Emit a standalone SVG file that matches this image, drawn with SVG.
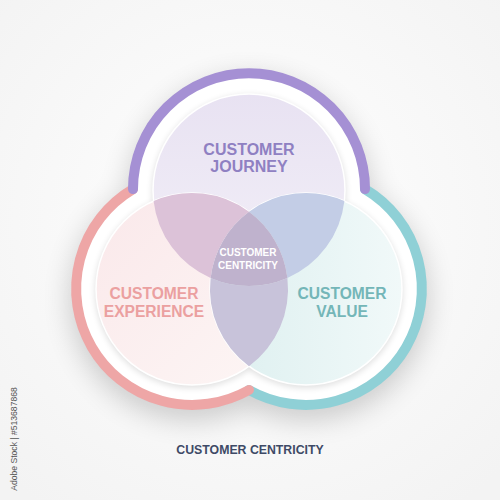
<svg xmlns="http://www.w3.org/2000/svg" width="500" height="500" viewBox="0 0 500 500">
  <defs>
    <filter id="dropShadow" x="-30%" y="-30%" width="160%" height="160%">
      <feGaussianBlur stdDeviation="14"/>
    </filter>
    <filter id="innerShadow" x="-20%" y="-20%" width="140%" height="140%">
      <feGaussianBlur stdDeviation="3"/>
    </filter>
    <radialGradient id="bg" cx="50%" cy="45%" r="70%">
      <stop offset="0" stop-color="#ffffff"/>
      <stop offset="1" stop-color="#f3f3f3"/>
    </radialGradient>
    <linearGradient id="gT" x1="0" y1="0" x2="0" y2="1">
      <stop offset="0" stop-color="#e8e2f2"/>
      <stop offset="1" stop-color="#f3f0f8"/>
    </linearGradient>
    <linearGradient id="gL" x1="0" y1="0" x2="1" y2="1">
      <stop offset="0" stop-color="#fae8ea"/>
      <stop offset="1" stop-color="#fdf6f5"/>
    </linearGradient>
    <linearGradient id="gR" x1="0" y1="0" x2="1" y2="0">
      <stop offset="0" stop-color="#dcefef"/>
      <stop offset="1" stop-color="#f1f9f9"/>
    </linearGradient>
    <style>
      .band { fill: none; stroke-width: 10; stroke-linecap: round; }
      .inner { stroke: #ffffff; stroke-width: 1.5; }
      .lbl { font-family: "Liberation Sans", Arial, sans-serif; font-weight: bold; text-anchor: middle; }
    </style>
  </defs>

  <rect width="500" height="500" fill="url(#bg)"/>

  <!-- soft shadow under the whole shape -->
  <g opacity="0.18" filter="url(#dropShadow)" fill="#000">
    <circle cx="249" cy="199" r="122"/>
    <circle cx="192" cy="298" r="122"/>
    <circle cx="306" cy="298" r="122"/>
  </g>

  <!-- white frame -->
  <g id="frame" fill="#ffffff">
    <circle cx="249" cy="190" r="113"/>
    <circle cx="192" cy="289" r="113"/>
    <circle cx="306" cy="289" r="113"/>
  </g>

  <!-- colored outer bands -->
  <g id="bands">
    <path class="band" stroke="#8fd0d6" d="M249,390 A116,116 0 0 0 365,189.1"/>
    <path class="band" stroke="#eea6a6" d="M133,189.1 A116,116 0 0 0 249,390"/>
    <path class="band" stroke="#a590d4" d="M133,189.1 A116,116 0 0 1 365,189.1"/>
  </g>

  <!-- subtle shadows of inner circles -->
  <g opacity="0.12" filter="url(#innerShadow)" fill="#000">
    <circle cx="249" cy="192" r="97"/>
    <circle cx="192" cy="291" r="97"/>
    <circle cx="306" cy="291" r="97"/>
  </g>

  <g id="node-journey">
    <circle class="inner" cx="249" cy="190" r="96" fill="url(#gT)"/>
  </g>
  <g id="node-experience">
    <circle class="inner" cx="192" cy="289" r="96" fill="url(#gL)"/>
  </g>
  <g id="node-value">
    <circle class="inner" cx="306" cy="289" r="96" fill="url(#gR)"/>
  </g>

  <!-- overlaps -->
  <g id="overlaps">
    <path fill="#dcc2d8" d="M153.6,201 A96,96 0 0 1 249,211.75 A96,96 0 0 0 210.6,278 A96,96 0 0 1 153.6,201 Z"/>
    <path fill="#c3cde6" d="M249,211.75 A96,96 0 0 1 344.4,201 A96,96 0 0 1 287.4,278 A96,96 0 0 0 249,211.75 Z"/>
    <path fill="#c8c3da" d="M210.6,278 A96,96 0 0 0 287.4,278 A96,96 0 0 1 249,366.25 A96,96 0 0 1 210.6,278 Z"/>
    <path fill="#bfb2cd" d="M249,211.75 A96,96 0 0 1 287.4,278 A96,96 0 0 1 210.6,278 A96,96 0 0 1 249,211.75 Z"/>
  </g>

  <!-- labels -->
  <g id="label-journey" class="lbl" fill="#8f80c2" font-size="16">
    <text x="249" y="155">CUSTOMER</text>
    <text x="249" y="172">JOURNEY</text>
  </g>
  <g id="label-experience" class="lbl" fill="#eba0a0" font-size="15.6">
    <text x="154" y="299">CUSTOMER</text>
    <text x="154" y="317">EXPERIENCE</text>
  </g>
  <g id="label-value" class="lbl" fill="#74b6b8" font-size="15.6">
    <text x="342" y="299">CUSTOMER</text>
    <text x="342" y="317">VALUE</text>
  </g>
  <g id="label-center" class="lbl" fill="#ffffff" font-size="10">
    <text x="248" y="256">CUSTOMER</text>
    <text x="248" y="268.5">CENTRICITY</text>
  </g>

  <text id="title" class="lbl" x="250" y="454" fill="#3e4a66" font-size="12.3">CUSTOMER CENTRICITY</text>

  <text x="17" y="439" transform="rotate(-90 17 439)" font-family="'Liberation Sans', Arial, sans-serif" font-size="8.6" fill="#555555" text-anchor="middle">Adobe Stock | #513687868</text>
</svg>
